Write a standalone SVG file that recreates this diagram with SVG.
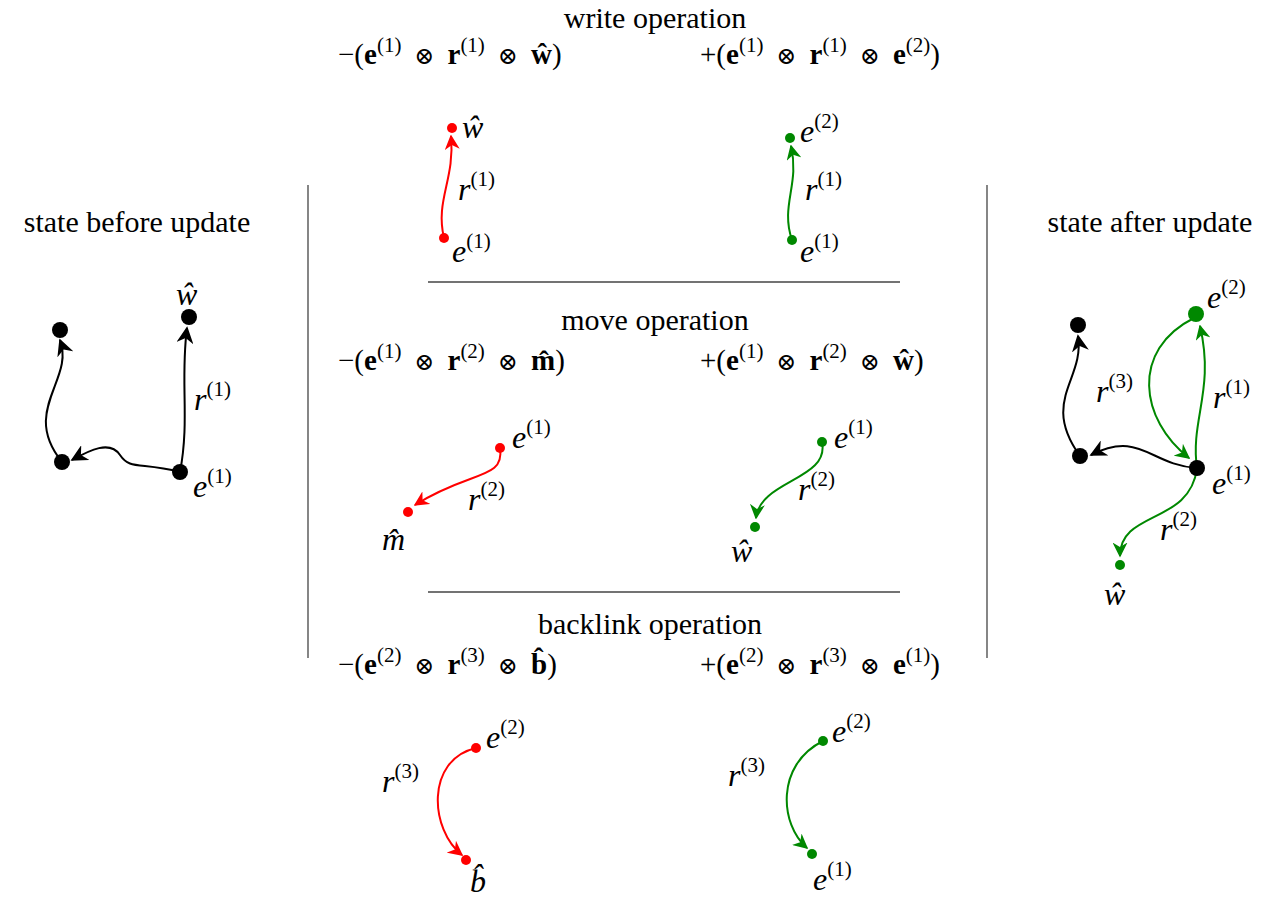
<svg xmlns="http://www.w3.org/2000/svg" width="1279" height="898" viewBox="0 0 1279 898">
<style>
text{font-family:"Liberation Serif","DejaVu Serif",serif;fill:#000}
.t{font-size:30px;text-anchor:middle}
.f{font-size:29px;word-spacing:7px}
.m{font-size:32px;font-style:italic}
.s{font-size:21px;font-style:normal}
.b{font-weight:bold}
.o{font-size:24px}
.e{fill:none;stroke-width:2}
.k{stroke:#000}.r{stroke:#f00}.g{stroke:#080}
.sep{stroke:#444;stroke-width:1.3}
</style>
<defs>
<marker id="ak" viewBox="0 0 10 10" refX="9" refY="5" markerWidth="17" markerHeight="17" markerUnits="userSpaceOnUse" orient="auto"><path d="M0,0L10,5L0,10L3,5z" fill="#000"/></marker>
<marker id="ar" viewBox="0 0 10 10" refX="9" refY="5" markerWidth="15" markerHeight="15" markerUnits="userSpaceOnUse" orient="auto"><path d="M0,0L10,5L0,10L3,5z" fill="#f00"/></marker>
<marker id="ag" viewBox="0 0 10 10" refX="9" refY="5" markerWidth="15" markerHeight="15" markerUnits="userSpaceOnUse" orient="auto"><path d="M0,0L10,5L0,10L3,5z" fill="#080"/></marker>
</defs>
<g id="separators">
<line class="sep" x1="308" y1="185" x2="308" y2="658"/>
<line class="sep" x1="987" y1="185" x2="987" y2="658"/>
<line class="sep" x1="428" y1="282" x2="900" y2="282"/>
<line class="sep" x1="428" y1="592" x2="900" y2="592"/>
</g>
<g id="titles">
<text class="t" x="655" y="28">write operation</text>
<text class="t" x="655" y="330">move operation</text>
<text class="t" x="650" y="634">backlink operation</text>
<text class="t" x="137" y="232">state before update</text>
<text class="t" x="1150" y="232">state after update</text>
</g>
<g id="formulas" class="f">
<text x="338" y="64">−(<tspan class="b">e</tspan><tspan class="s" dy="-12">(1)</tspan><tspan class="o" dy="12"> ⊗ </tspan><tspan class="b">r</tspan><tspan class="s" dy="-12">(1)</tspan><tspan class="o" dy="12"> ⊗ </tspan><tspan class="b">ŵ</tspan>)</text>
<text x="700" y="64">+(<tspan class="b">e</tspan><tspan class="s" dy="-12">(1)</tspan><tspan class="o" dy="12"> ⊗ </tspan><tspan class="b">r</tspan><tspan class="s" dy="-12">(1)</tspan><tspan class="o" dy="12"> ⊗ </tspan><tspan class="b">e</tspan><tspan class="s" dy="-12">(2)</tspan><tspan dy="12">)</tspan></text>
<text x="338" y="370">−(<tspan class="b">e</tspan><tspan class="s" dy="-12">(1)</tspan><tspan class="o" dy="12"> ⊗ </tspan><tspan class="b">r</tspan><tspan class="s" dy="-12">(2)</tspan><tspan class="o" dy="12"> ⊗ </tspan><tspan class="b">m̂</tspan>)</text>
<text x="700" y="370">+(<tspan class="b">e</tspan><tspan class="s" dy="-12">(1)</tspan><tspan class="o" dy="12"> ⊗ </tspan><tspan class="b">r</tspan><tspan class="s" dy="-12">(2)</tspan><tspan class="o" dy="12"> ⊗ </tspan><tspan class="b">ŵ</tspan>)</text>
<text x="338" y="674">−(<tspan class="b">e</tspan><tspan class="s" dy="-12">(2)</tspan><tspan class="o" dy="12"> ⊗ </tspan><tspan class="b">r</tspan><tspan class="s" dy="-12">(3)</tspan><tspan class="o" dy="12"> ⊗ </tspan><tspan class="b">b̂</tspan>)</text>
<text x="700" y="674">+(<tspan class="b">e</tspan><tspan class="s" dy="-12">(2)</tspan><tspan class="o" dy="12"> ⊗ </tspan><tspan class="b">r</tspan><tspan class="s" dy="-12">(3)</tspan><tspan class="o" dy="12"> ⊗ </tspan><tspan class="b">e</tspan><tspan class="s" dy="-12">(1)</tspan><tspan dy="12">)</tspan></text>
</g>
<g id="connectors">
<path class="e k" d="M62,462 C20,410 75,380 60,340" marker-end="url(#ak)"/>
<path class="e k" d="M180,472 C140,462 130,470 120,455 C110,440 90,450 72,460" marker-end="url(#ak)"/>
<path class="e k" d="M180,472 C190,420 180,380 187,328" marker-end="url(#ak)"/>
<path class="e r" d="M444,238 C435,200 455,180 451,136" marker-end="url(#ar)"/>
<path class="e g" d="M792,240 C780,205 800,185 791,146" marker-end="url(#ag)"/>
<path class="e r" d="M500,448 C505,480 470,470 415,505" marker-end="url(#ar)"/>
<path class="e g" d="M822,442 C830,480 760,480 756,518" marker-end="url(#ag)"/>
<path class="e r" d="M476,748 C425,760 430,830 462,855" marker-end="url(#ar)"/>
<path class="e g" d="M823,741 C775,765 780,825 807,848" marker-end="url(#ag)"/>
<path class="e k" d="M1080,456 C1040,400 1085,380 1078,336" marker-end="url(#ak)"/>
<path class="e k" d="M1197,468 C1150,465 1140,430 1091,455" marker-end="url(#ak)"/>
<path class="e g" stroke-width="3" d="M1197,468 C1190,420 1215,390 1200,326" marker-end="url(#ag)"/>
<path class="e g" d="M1194,318 C1130,350 1140,420 1189,458" marker-end="url(#ag)"/>
<path class="e g" d="M1197,468 C1190,525 1120,510 1120,556" marker-end="url(#ag)"/>
</g>
<g id="nodes">
<circle cx="60" cy="330" r="8"/><circle cx="189" cy="317" r="8"/><circle cx="62" cy="462" r="8"/><circle cx="180" cy="472" r="8"/>
<circle cx="452" cy="128" r="5" fill="#f00"/><circle cx="444" cy="238" r="5" fill="#f00"/>
<circle cx="790" cy="138" r="5" fill="#080"/><circle cx="792" cy="240" r="5" fill="#080"/>
<circle cx="500" cy="448" r="5" fill="#f00"/><circle cx="408" cy="512" r="5" fill="#f00"/>
<circle cx="822" cy="442" r="5" fill="#080"/><circle cx="755" cy="527" r="5" fill="#080"/>
<circle cx="476" cy="748" r="5" fill="#f00"/><circle cx="466" cy="860" r="5" fill="#f00"/>
<circle cx="823" cy="741" r="5" fill="#080"/><circle cx="812" cy="854" r="5" fill="#080"/>
<circle cx="1078" cy="325" r="8"/><circle cx="1080" cy="456" r="8"/><circle cx="1197" cy="468" r="8"/>
<circle cx="1196" cy="314" r="8" fill="#080"/><circle cx="1120" cy="565" r="5" fill="#080"/>
</g>
<g id="labels" class="m">
<text x="176" y="305">ŵ</text>
<text x="194" y="410">r<tspan class="s" dy="-14">(1)</tspan></text>
<text x="193" y="497">e<tspan class="s" dy="-14">(1)</tspan></text>
<text x="462" y="138">ŵ</text>
<text x="458" y="200">r<tspan class="s" dy="-14">(1)</tspan></text>
<text x="452" y="262">e<tspan class="s" dy="-14">(1)</tspan></text>
<text x="800" y="142">e<tspan class="s" dy="-14">(2)</tspan></text>
<text x="805" y="200">r<tspan class="s" dy="-14">(1)</tspan></text>
<text x="800" y="262">e<tspan class="s" dy="-14">(1)</tspan></text>
<text x="512" y="448">e<tspan class="s" dy="-14">(1)</tspan></text>
<text x="468" y="510">r<tspan class="s" dy="-14">(2)</tspan></text>
<text x="382" y="550">m̂</text>
<text x="834" y="448">e<tspan class="s" dy="-14">(1)</tspan></text>
<text x="798" y="500">r<tspan class="s" dy="-14">(2)</tspan></text>
<text x="731" y="562">ŵ</text>
<text x="486" y="748">e<tspan class="s" dy="-14">(2)</tspan></text>
<text x="382" y="792">r<tspan class="s" dy="-14">(3)</tspan></text>
<text x="470" y="892">b̂</text>
<text x="832" y="742">e<tspan class="s" dy="-14">(2)</tspan></text>
<text x="728" y="786">r<tspan class="s" dy="-14">(3)</tspan></text>
<text x="813" y="890">e<tspan class="s" dy="-14">(1)</tspan></text>
<text x="1207" y="308">e<tspan class="s" dy="-14">(2)</tspan></text>
<text x="1096" y="402">r<tspan class="s" dy="-14">(3)</tspan></text>
<text x="1213" y="408">r<tspan class="s" dy="-14">(1)</tspan></text>
<text x="1212" y="494">e<tspan class="s" dy="-14">(1)</tspan></text>
<text x="1160" y="540">r<tspan class="s" dy="-14">(2)</tspan></text>
<text x="1104" y="605">ŵ</text>
</g>
</svg>
